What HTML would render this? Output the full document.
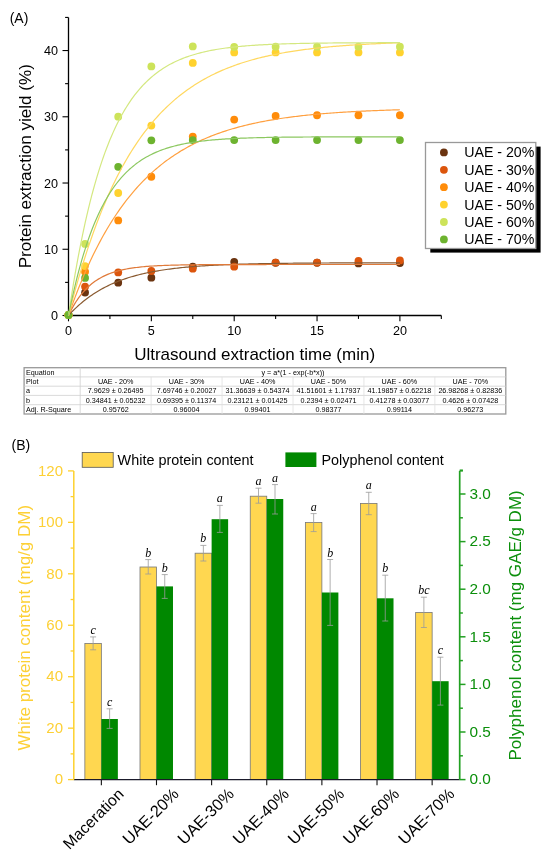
<!DOCTYPE html>
<html><head><meta charset="utf-8"><style>
html,body{margin:0;padding:0;background:#fff;}
svg{display:block;}
</style></head><body>
<svg width="550" height="854" viewBox="0 0 550 854">
<rect width="550" height="854" fill="#fff"/>
<text x="9.7" y="22.8" font-size="14" font-family="Liberation Sans, Arial, sans-serif">(A)</text>
<line x1="68.5" y1="17.42" x2="68.5" y2="316.1" stroke="#000" stroke-width="1.3"/>
<line x1="67.9" y1="315.5" x2="441.32" y2="315.5" stroke="#000" stroke-width="1.3"/>
<line x1="62.50" y1="315.50" x2="68.5" y2="315.50" stroke="#000" stroke-width="1.1"/>
<text x="58.00" y="320.10" font-size="12.6" text-anchor="end" font-family="Liberation Sans, Arial, sans-serif">0</text>
<line x1="65.10" y1="282.38" x2="68.5" y2="282.38" stroke="#000" stroke-width="1.1"/>
<line x1="62.50" y1="249.26" x2="68.5" y2="249.26" stroke="#000" stroke-width="1.1"/>
<text x="58.00" y="253.86" font-size="12.6" text-anchor="end" font-family="Liberation Sans, Arial, sans-serif">10</text>
<line x1="65.10" y1="216.14" x2="68.5" y2="216.14" stroke="#000" stroke-width="1.1"/>
<line x1="62.50" y1="183.02" x2="68.5" y2="183.02" stroke="#000" stroke-width="1.1"/>
<text x="58.00" y="187.62" font-size="12.6" text-anchor="end" font-family="Liberation Sans, Arial, sans-serif">20</text>
<line x1="65.10" y1="149.90" x2="68.5" y2="149.90" stroke="#000" stroke-width="1.1"/>
<line x1="62.50" y1="116.78" x2="68.5" y2="116.78" stroke="#000" stroke-width="1.1"/>
<text x="58.00" y="121.38" font-size="12.6" text-anchor="end" font-family="Liberation Sans, Arial, sans-serif">30</text>
<line x1="65.10" y1="83.66" x2="68.5" y2="83.66" stroke="#000" stroke-width="1.1"/>
<line x1="62.50" y1="50.54" x2="68.5" y2="50.54" stroke="#000" stroke-width="1.1"/>
<text x="58.00" y="55.14" font-size="12.6" text-anchor="end" font-family="Liberation Sans, Arial, sans-serif">40</text>
<line x1="65.10" y1="17.42" x2="68.5" y2="17.42" stroke="#000" stroke-width="1.1"/>
<line x1="68.50" y1="315.5" x2="68.50" y2="321.30" stroke="#000" stroke-width="1.1"/>
<text x="68.50" y="334.90" font-size="12.6" text-anchor="middle" font-family="Liberation Sans, Arial, sans-serif">0</text>
<line x1="109.92" y1="315.5" x2="109.92" y2="318.90" stroke="#000" stroke-width="1.1"/>
<line x1="151.35" y1="315.5" x2="151.35" y2="321.30" stroke="#000" stroke-width="1.1"/>
<text x="151.35" y="334.90" font-size="12.6" text-anchor="middle" font-family="Liberation Sans, Arial, sans-serif">5</text>
<line x1="192.78" y1="315.5" x2="192.78" y2="318.90" stroke="#000" stroke-width="1.1"/>
<line x1="234.20" y1="315.5" x2="234.20" y2="321.30" stroke="#000" stroke-width="1.1"/>
<text x="234.20" y="334.90" font-size="12.6" text-anchor="middle" font-family="Liberation Sans, Arial, sans-serif">10</text>
<line x1="275.62" y1="315.5" x2="275.62" y2="318.90" stroke="#000" stroke-width="1.1"/>
<line x1="317.05" y1="315.5" x2="317.05" y2="321.30" stroke="#000" stroke-width="1.1"/>
<text x="317.05" y="334.90" font-size="12.6" text-anchor="middle" font-family="Liberation Sans, Arial, sans-serif">15</text>
<line x1="358.48" y1="315.5" x2="358.48" y2="318.90" stroke="#000" stroke-width="1.1"/>
<line x1="399.90" y1="315.5" x2="399.90" y2="321.30" stroke="#000" stroke-width="1.1"/>
<text x="399.90" y="334.90" font-size="12.6" text-anchor="middle" font-family="Liberation Sans, Arial, sans-serif">20</text>
<line x1="441.32" y1="315.5" x2="441.32" y2="318.90" stroke="#000" stroke-width="1.1"/>
<text x="254.6" y="359.7" font-size="17" text-anchor="middle" font-family="Liberation Sans, Arial, sans-serif">Ultrasound extraction time (min)</text>
<text transform="translate(31,166.2) rotate(-90)" font-size="17.1" text-anchor="middle" font-family="Liberation Sans, Arial, sans-serif">Protein extraction yield (%)</text>
<circle cx="68.50" cy="315.00" r="3.9" fill="#6b3410"/>
<circle cx="85.07" cy="292.51" r="3.9" fill="#6b3410"/>
<circle cx="118.21" cy="282.72" r="3.9" fill="#6b3410"/>
<circle cx="151.35" cy="277.69" r="3.9" fill="#6b3410"/>
<circle cx="192.78" cy="266.71" r="3.9" fill="#6b3410"/>
<circle cx="234.20" cy="261.82" r="3.9" fill="#6b3410"/>
<circle cx="275.62" cy="262.74" r="3.9" fill="#6b3410"/>
<circle cx="317.05" cy="262.74" r="3.9" fill="#6b3410"/>
<circle cx="358.48" cy="263.40" r="3.9" fill="#6b3410"/>
<circle cx="399.90" cy="263.07" r="3.9" fill="#6b3410"/>
<circle cx="68.50" cy="315.00" r="3.9" fill="#dc550c"/>
<circle cx="85.07" cy="286.56" r="3.9" fill="#dc550c"/>
<circle cx="118.21" cy="272.40" r="3.9" fill="#dc550c"/>
<circle cx="151.35" cy="271.01" r="3.9" fill="#dc550c"/>
<circle cx="192.78" cy="268.69" r="3.9" fill="#dc550c"/>
<circle cx="234.20" cy="266.71" r="3.9" fill="#dc550c"/>
<circle cx="275.62" cy="262.61" r="3.9" fill="#dc550c"/>
<circle cx="317.05" cy="262.61" r="3.9" fill="#dc550c"/>
<circle cx="358.48" cy="261.02" r="3.9" fill="#dc550c"/>
<circle cx="399.90" cy="260.43" r="3.9" fill="#dc550c"/>
<circle cx="68.50" cy="315.00" r="3.9" fill="#ff8c0a"/>
<circle cx="85.07" cy="271.67" r="3.9" fill="#ff8c0a"/>
<circle cx="118.21" cy="220.41" r="3.9" fill="#ff8c0a"/>
<circle cx="151.35" cy="176.75" r="3.9" fill="#ff8c0a"/>
<circle cx="192.78" cy="136.59" r="3.9" fill="#ff8c0a"/>
<circle cx="234.20" cy="119.53" r="3.9" fill="#ff8c0a"/>
<circle cx="275.62" cy="115.89" r="3.9" fill="#ff8c0a"/>
<circle cx="317.05" cy="115.23" r="3.9" fill="#ff8c0a"/>
<circle cx="358.48" cy="115.23" r="3.9" fill="#ff8c0a"/>
<circle cx="399.90" cy="115.23" r="3.9" fill="#ff8c0a"/>
<circle cx="68.50" cy="315.00" r="3.9" fill="#ffd22e"/>
<circle cx="85.07" cy="266.05" r="3.9" fill="#ffd22e"/>
<circle cx="118.21" cy="193.02" r="3.9" fill="#ffd22e"/>
<circle cx="151.35" cy="125.61" r="3.9" fill="#ffd22e"/>
<circle cx="192.78" cy="62.97" r="3.9" fill="#ffd22e"/>
<circle cx="234.20" cy="52.38" r="3.9" fill="#ffd22e"/>
<circle cx="275.62" cy="52.38" r="3.9" fill="#ffd22e"/>
<circle cx="317.05" cy="52.38" r="3.9" fill="#ffd22e"/>
<circle cx="358.48" cy="52.38" r="3.9" fill="#ffd22e"/>
<circle cx="399.90" cy="52.38" r="3.9" fill="#ffd22e"/>
<circle cx="68.50" cy="315.00" r="3.9" fill="#cde35a"/>
<circle cx="85.07" cy="243.89" r="3.9" fill="#cde35a"/>
<circle cx="118.21" cy="116.68" r="3.9" fill="#cde35a"/>
<circle cx="151.35" cy="66.47" r="3.9" fill="#cde35a"/>
<circle cx="192.78" cy="46.43" r="3.9" fill="#cde35a"/>
<circle cx="234.20" cy="46.89" r="3.9" fill="#cde35a"/>
<circle cx="275.62" cy="46.70" r="3.9" fill="#cde35a"/>
<circle cx="317.05" cy="46.70" r="3.9" fill="#cde35a"/>
<circle cx="358.48" cy="46.70" r="3.9" fill="#cde35a"/>
<circle cx="399.90" cy="46.70" r="3.9" fill="#cde35a"/>
<circle cx="68.50" cy="315.00" r="3.9" fill="#6db32f"/>
<circle cx="85.07" cy="277.96" r="3.9" fill="#6db32f"/>
<circle cx="118.21" cy="166.82" r="3.9" fill="#6db32f"/>
<circle cx="151.35" cy="140.36" r="3.9" fill="#6db32f"/>
<circle cx="192.78" cy="140.03" r="3.9" fill="#6db32f"/>
<circle cx="234.20" cy="140.03" r="3.9" fill="#6db32f"/>
<circle cx="275.62" cy="140.03" r="3.9" fill="#6db32f"/>
<circle cx="317.05" cy="140.03" r="3.9" fill="#6db32f"/>
<circle cx="358.48" cy="140.03" r="3.9" fill="#6db32f"/>
<circle cx="399.90" cy="140.03" r="3.9" fill="#6db32f"/>
<polyline points="68.50,315.50 70.16,313.69 71.81,311.95 73.47,310.27 75.13,308.64 76.78,307.07 78.44,305.55 80.10,304.08 81.76,302.67 83.41,301.30 85.07,299.98 86.73,298.71 88.38,297.48 90.04,296.29 91.70,295.14 93.36,294.03 95.01,292.96 96.67,291.93 98.33,290.93 99.98,289.96 101.64,289.03 103.30,288.13 104.95,287.26 106.61,286.42 108.27,285.61 109.92,284.83 111.58,284.07 113.24,283.34 114.90,282.64 116.55,281.96 118.21,281.30 119.87,280.66 121.52,280.05 123.18,279.46 124.84,278.89 126.50,278.33 128.15,277.80 129.81,277.29 131.47,276.79 133.12,276.31 134.78,275.84 136.44,275.40 138.09,274.96 139.75,274.54 141.41,274.14 143.06,273.75 144.72,273.37 146.38,273.01 148.04,272.66 149.69,272.32 151.35,271.99 153.01,271.68 154.66,271.37 156.32,271.08 157.98,270.79 159.63,270.52 161.29,270.25 162.95,269.99 164.61,269.75 166.26,269.51 167.92,269.27 169.58,269.05 171.23,268.84 172.89,268.63 174.55,268.43 176.20,268.23 177.86,268.04 179.52,267.86 181.18,267.69 182.83,267.52 184.49,267.36 186.15,267.20 187.80,267.05 189.46,266.90 191.12,266.76 192.78,266.62 194.43,266.49 196.09,266.36 197.75,266.24 199.40,266.12 201.06,266.00 202.72,265.89 204.37,265.78 206.03,265.68 207.69,265.58 209.34,265.48 211.00,265.39 212.66,265.30 214.32,265.21 215.97,265.13 217.63,265.05 219.29,264.97 220.94,264.89 222.60,264.82 224.26,264.75 225.91,264.68 227.57,264.61 229.23,264.55 230.89,264.49 232.54,264.43 234.20,264.37 235.86,264.32 237.51,264.26 239.17,264.21 240.83,264.16 242.49,264.11 244.14,264.07 245.80,264.02 247.46,263.98 249.11,263.94 250.77,263.90 252.43,263.86 254.08,263.82 255.74,263.78 257.40,263.75 259.06,263.71 260.71,263.68 262.37,263.65 264.03,263.62 265.68,263.59 267.34,263.56 269.00,263.53 270.65,263.51 272.31,263.48 273.97,263.46 275.62,263.43 277.28,263.41 278.94,263.39 280.60,263.36 282.25,263.34 283.91,263.32 285.57,263.30 287.22,263.28 288.88,263.27 290.54,263.25 292.19,263.23 293.85,263.22 295.51,263.20 297.17,263.18 298.82,263.17 300.48,263.16 302.14,263.14 303.79,263.13 305.45,263.12 307.11,263.10 308.76,263.09 310.42,263.08 312.08,263.07 313.74,263.06 315.39,263.05 317.05,263.04 318.71,263.03 320.36,263.02 322.02,263.01 323.68,263.00 325.33,262.99 326.99,262.98 328.65,262.98 330.31,262.97 331.96,262.96 333.62,262.95 335.28,262.95 336.93,262.94 338.59,262.93 340.25,262.93 341.91,262.92 343.56,262.92 345.22,262.91 346.88,262.91 348.53,262.90 350.19,262.89 351.85,262.89 353.50,262.89 355.16,262.88 356.82,262.88 358.48,262.87 360.13,262.87 361.79,262.86 363.45,262.86 365.10,262.86 366.76,262.85 368.42,262.85 370.07,262.85 371.73,262.84 373.39,262.84 375.05,262.84 376.70,262.83 378.36,262.83 380.02,262.83 381.67,262.83 383.33,262.82 384.99,262.82 386.64,262.82 388.30,262.82 389.96,262.81 391.62,262.81 393.27,262.81 394.93,262.81 396.59,262.81 398.24,262.81 399.90,262.80" fill="none" stroke="#8a5a30" stroke-width="1.2"/>
<polyline points="68.50,315.50 70.16,312.08 71.81,308.89 73.47,305.92 75.13,303.14 76.78,300.55 78.44,298.14 80.10,295.88 81.76,293.78 83.41,291.82 85.07,289.99 86.73,288.28 88.38,286.68 90.04,285.20 91.70,283.81 93.36,282.52 95.01,281.31 96.67,280.18 98.33,279.13 99.98,278.15 101.64,277.24 103.30,276.39 104.95,275.59 106.61,274.85 108.27,274.15 109.92,273.51 111.58,272.90 113.24,272.34 114.90,271.82 116.55,271.33 118.21,270.87 119.87,270.44 121.52,270.05 123.18,269.68 124.84,269.33 126.50,269.01 128.15,268.70 129.81,268.42 131.47,268.16 133.12,267.92 134.78,267.69 136.44,267.48 138.09,267.28 139.75,267.09 141.41,266.92 143.06,266.76 144.72,266.61 146.38,266.47 148.04,266.34 149.69,266.21 151.35,266.10 153.01,265.99 154.66,265.89 156.32,265.80 157.98,265.71 159.63,265.63 161.29,265.56 162.95,265.49 164.61,265.42 166.26,265.36 167.92,265.30 169.58,265.25 171.23,265.20 172.89,265.16 174.55,265.11 176.20,265.07 177.86,265.03 179.52,265.00 181.18,264.97 182.83,264.94 184.49,264.91 186.15,264.88 187.80,264.86 189.46,264.83 191.12,264.81 192.78,264.79 194.43,264.77 196.09,264.76 197.75,264.74 199.40,264.72 201.06,264.71 202.72,264.70 204.37,264.68 206.03,264.67 207.69,264.66 209.34,264.65 211.00,264.64 212.66,264.63 214.32,264.63 215.97,264.62 217.63,264.61 219.29,264.60 220.94,264.60 222.60,264.59 224.26,264.59 225.91,264.58 227.57,264.58 229.23,264.57 230.89,264.57 232.54,264.56 234.20,264.56 235.86,264.56 237.51,264.56 239.17,264.55 240.83,264.55 242.49,264.55 244.14,264.54 245.80,264.54 247.46,264.54 249.11,264.54 250.77,264.54 252.43,264.54 254.08,264.53 255.74,264.53 257.40,264.53 259.06,264.53 260.71,264.53 262.37,264.53 264.03,264.53 265.68,264.53 267.34,264.52 269.00,264.52 270.65,264.52 272.31,264.52 273.97,264.52 275.62,264.52 277.28,264.52 278.94,264.52 280.60,264.52 282.25,264.52 283.91,264.52 285.57,264.52 287.22,264.52 288.88,264.52 290.54,264.52 292.19,264.52 293.85,264.52 295.51,264.52 297.17,264.52 298.82,264.52 300.48,264.52 302.14,264.51 303.79,264.51 305.45,264.51 307.11,264.51 308.76,264.51 310.42,264.51 312.08,264.51 313.74,264.51 315.39,264.51 317.05,264.51 318.71,264.51 320.36,264.51 322.02,264.51 323.68,264.51 325.33,264.51 326.99,264.51 328.65,264.51 330.31,264.51 331.96,264.51 333.62,264.51 335.28,264.51 336.93,264.51 338.59,264.51 340.25,264.51 341.91,264.51 343.56,264.51 345.22,264.51 346.88,264.51 348.53,264.51 350.19,264.51 351.85,264.51 353.50,264.51 355.16,264.51 356.82,264.51 358.48,264.51 360.13,264.51 361.79,264.51 363.45,264.51 365.10,264.51 366.76,264.51 368.42,264.51 370.07,264.51 371.73,264.51 373.39,264.51 375.05,264.51 376.70,264.51 378.36,264.51 380.02,264.51 381.67,264.51 383.33,264.51 384.99,264.51 386.64,264.51 388.30,264.51 389.96,264.51 391.62,264.51 393.27,264.51 394.93,264.51 396.59,264.51 398.24,264.51 399.90,264.51" fill="none" stroke="#e07a3a" stroke-width="1.2"/>
<polyline points="68.50,315.50 70.16,310.75 71.81,306.11 73.47,301.58 75.13,297.15 76.78,292.82 78.44,288.59 80.10,284.45 81.76,280.41 83.41,276.47 85.07,272.61 86.73,268.84 88.38,265.16 90.04,261.56 91.70,258.05 93.36,254.61 95.01,251.25 96.67,247.97 98.33,244.77 99.98,241.63 101.64,238.57 103.30,235.58 104.95,232.66 106.61,229.81 108.27,227.02 109.92,224.29 111.58,221.63 113.24,219.02 114.90,216.48 116.55,213.99 118.21,211.56 119.87,209.19 121.52,206.87 123.18,204.61 124.84,202.39 126.50,200.23 128.15,198.11 129.81,196.05 131.47,194.03 133.12,192.06 134.78,190.13 136.44,188.25 138.09,186.41 139.75,184.61 141.41,182.85 143.06,181.13 144.72,179.46 146.38,177.82 148.04,176.21 149.69,174.65 151.35,173.12 153.01,171.63 154.66,170.17 156.32,168.74 157.98,167.34 159.63,165.98 161.29,164.65 162.95,163.35 164.61,162.08 166.26,160.84 167.92,159.62 169.58,158.44 171.23,157.28 172.89,156.14 174.55,155.04 176.20,153.96 177.86,152.90 179.52,151.87 181.18,150.86 182.83,149.87 184.49,148.91 186.15,147.97 187.80,147.05 189.46,146.15 191.12,145.27 192.78,144.41 194.43,143.58 196.09,142.76 197.75,141.96 199.40,141.17 201.06,140.41 202.72,139.66 204.37,138.93 206.03,138.22 207.69,137.52 209.34,136.84 211.00,136.18 212.66,135.53 214.32,134.89 215.97,134.27 217.63,133.66 219.29,133.07 220.94,132.49 222.60,131.92 224.26,131.37 225.91,130.83 227.57,130.30 229.23,129.79 230.89,129.28 232.54,128.79 234.20,128.31 235.86,127.84 237.51,127.38 239.17,126.93 240.83,126.49 242.49,126.06 244.14,125.64 245.80,125.23 247.46,124.83 249.11,124.44 250.77,124.06 252.43,123.69 254.08,123.32 255.74,122.97 257.40,122.62 259.06,122.28 260.71,121.95 262.37,121.62 264.03,121.30 265.68,120.99 267.34,120.69 269.00,120.39 270.65,120.10 272.31,119.82 273.97,119.54 275.62,119.27 277.28,119.01 278.94,118.75 280.60,118.50 282.25,118.25 283.91,118.01 285.57,117.78 287.22,117.55 288.88,117.33 290.54,117.11 292.19,116.89 293.85,116.68 295.51,116.48 297.17,116.28 298.82,116.08 300.48,115.89 302.14,115.70 303.79,115.52 305.45,115.34 307.11,115.17 308.76,115.00 310.42,114.83 312.08,114.67 313.74,114.51 315.39,114.36 317.05,114.21 318.71,114.06 320.36,113.91 322.02,113.77 323.68,113.63 325.33,113.50 326.99,113.37 328.65,113.24 330.31,113.11 331.96,112.99 333.62,112.87 335.28,112.75 336.93,112.64 338.59,112.52 340.25,112.42 341.91,112.31 343.56,112.20 345.22,112.10 346.88,112.00 348.53,111.90 350.19,111.81 351.85,111.71 353.50,111.62 355.16,111.53 356.82,111.45 358.48,111.36 360.13,111.28 361.79,111.20 363.45,111.12 365.10,111.04 366.76,110.97 368.42,110.89 370.07,110.82 371.73,110.75 373.39,110.68 375.05,110.61 376.70,110.55 378.36,110.48 380.02,110.42 381.67,110.36 383.33,110.30 384.99,110.24 386.64,110.18 388.30,110.13 389.96,110.07 391.62,110.02 393.27,109.97 394.93,109.91 396.59,109.86 398.24,109.82 399.90,109.77" fill="none" stroke="#ffa040" stroke-width="1.2"/>
<polyline points="68.50,315.50 70.16,308.99 71.81,302.64 73.47,296.44 75.13,290.39 76.78,284.48 78.44,278.70 80.10,273.07 81.76,267.57 83.41,262.20 85.07,256.95 86.73,251.83 88.38,246.83 90.04,241.95 91.70,237.19 93.36,232.53 95.01,227.99 96.67,223.56 98.33,219.22 99.98,215.00 101.64,210.87 103.30,206.84 104.95,202.90 106.61,199.06 108.27,195.31 109.92,191.65 111.58,188.07 113.24,184.58 114.90,181.17 116.55,177.85 118.21,174.60 119.87,171.42 121.52,168.33 123.18,165.30 124.84,162.35 126.50,159.47 128.15,156.65 129.81,153.91 131.47,151.22 133.12,148.60 134.78,146.05 136.44,143.55 138.09,141.11 139.75,138.73 141.41,136.41 143.06,134.14 144.72,131.92 146.38,129.76 148.04,127.65 149.69,125.59 151.35,123.58 153.01,121.61 154.66,119.69 156.32,117.82 157.98,115.99 159.63,114.20 161.29,112.46 162.95,110.76 164.61,109.10 166.26,107.47 167.92,105.89 169.58,104.34 171.23,102.83 172.89,101.36 174.55,99.92 176.20,98.51 177.86,97.14 179.52,95.80 181.18,94.49 182.83,93.21 184.49,91.97 186.15,90.75 187.80,89.56 189.46,88.40 191.12,87.27 192.78,86.16 194.43,85.08 196.09,84.03 197.75,83.00 199.40,81.99 201.06,81.01 202.72,80.05 204.37,79.12 206.03,78.20 207.69,77.31 209.34,76.44 211.00,75.59 212.66,74.76 214.32,73.95 215.97,73.16 217.63,72.38 219.29,71.63 220.94,70.89 222.60,70.17 224.26,69.47 225.91,68.79 227.57,68.12 229.23,67.46 230.89,66.83 232.54,66.20 234.20,65.60 235.86,65.00 237.51,64.42 239.17,63.86 240.83,63.30 242.49,62.76 244.14,62.24 245.80,61.72 247.46,61.22 249.11,60.73 250.77,60.25 252.43,59.79 254.08,59.33 255.74,58.88 257.40,58.45 259.06,58.02 260.71,57.61 262.37,57.20 264.03,56.81 265.68,56.42 267.34,56.05 269.00,55.68 270.65,55.32 272.31,54.97 273.97,54.63 275.62,54.29 277.28,53.97 278.94,53.65 280.60,53.34 282.25,53.03 283.91,52.74 285.57,52.45 287.22,52.16 288.88,51.89 290.54,51.62 292.19,51.36 293.85,51.10 295.51,50.85 297.17,50.60 298.82,50.36 300.48,50.13 302.14,49.90 303.79,49.68 305.45,49.46 307.11,49.25 308.76,49.04 310.42,48.84 312.08,48.64 313.74,48.45 315.39,48.26 317.05,48.08 318.71,47.90 320.36,47.73 322.02,47.55 323.68,47.39 325.33,47.22 326.99,47.07 328.65,46.91 330.31,46.76 331.96,46.61 333.62,46.47 335.28,46.32 336.93,46.19 338.59,46.05 340.25,45.92 341.91,45.79 343.56,45.67 345.22,45.54 346.88,45.43 348.53,45.31 350.19,45.20 351.85,45.08 353.50,44.98 355.16,44.87 356.82,44.77 358.48,44.67 360.13,44.57 361.79,44.47 363.45,44.38 365.10,44.28 366.76,44.20 368.42,44.11 370.07,44.02 371.73,43.94 373.39,43.86 375.05,43.78 376.70,43.70 378.36,43.62 380.02,43.55 381.67,43.48 383.33,43.41 384.99,43.34 386.64,43.27 388.30,43.21 389.96,43.14 391.62,43.08 393.27,43.02 394.93,42.96 396.59,42.90 398.24,42.84 399.90,42.79" fill="none" stroke="#ffd860" stroke-width="1.2"/>
<polyline points="68.50,315.50 70.16,304.46 71.81,293.88 73.47,283.71 75.13,273.96 76.78,264.61 78.44,255.63 80.10,247.02 81.76,238.75 83.41,230.82 85.07,223.21 86.73,215.90 88.38,208.90 90.04,202.17 91.70,195.72 93.36,189.53 95.01,183.59 96.67,177.88 98.33,172.41 99.98,167.16 101.64,162.13 103.30,157.29 104.95,152.66 106.61,148.21 108.27,143.94 109.92,139.84 111.58,135.91 113.24,132.13 114.90,128.51 116.55,125.04 118.21,121.70 119.87,118.51 121.52,115.44 123.18,112.49 124.84,109.66 126.50,106.95 128.15,104.35 129.81,101.85 131.47,99.46 133.12,97.16 134.78,94.95 136.44,92.84 138.09,90.80 139.75,88.85 141.41,86.98 143.06,85.19 144.72,83.47 146.38,81.81 148.04,80.23 149.69,78.71 151.35,77.25 153.01,75.85 154.66,74.50 156.32,73.21 157.98,71.97 159.63,70.79 161.29,69.65 162.95,68.55 164.61,67.50 166.26,66.50 167.92,65.53 169.58,64.60 171.23,63.71 172.89,62.86 174.55,62.04 176.20,61.25 177.86,60.50 179.52,59.78 181.18,59.08 182.83,58.42 184.49,57.78 186.15,57.16 187.80,56.57 189.46,56.01 191.12,55.47 192.78,54.95 194.43,54.45 196.09,53.97 197.75,53.51 199.40,53.07 201.06,52.64 202.72,52.24 204.37,51.85 206.03,51.47 207.69,51.12 209.34,50.77 211.00,50.44 212.66,50.12 214.32,49.82 215.97,49.53 217.63,49.25 219.29,48.98 220.94,48.72 222.60,48.47 224.26,48.24 225.91,48.01 227.57,47.79 229.23,47.58 230.89,47.38 232.54,47.18 234.20,47.00 235.86,46.82 237.51,46.65 239.17,46.49 240.83,46.33 242.49,46.18 244.14,46.03 245.80,45.90 247.46,45.76 249.11,45.63 250.77,45.51 252.43,45.39 254.08,45.28 255.74,45.17 257.40,45.07 259.06,44.97 260.71,44.87 262.37,44.78 264.03,44.69 265.68,44.61 267.34,44.53 269.00,44.45 270.65,44.37 272.31,44.30 273.97,44.23 275.62,44.17 277.28,44.10 278.94,44.04 280.60,43.99 282.25,43.93 283.91,43.88 285.57,43.82 287.22,43.77 288.88,43.73 290.54,43.68 292.19,43.64 293.85,43.60 295.51,43.56 297.17,43.52 298.82,43.48 300.48,43.44 302.14,43.41 303.79,43.38 305.45,43.35 307.11,43.32 308.76,43.29 310.42,43.26 312.08,43.23 313.74,43.21 315.39,43.18 317.05,43.16 318.71,43.14 320.36,43.11 322.02,43.09 323.68,43.07 325.33,43.05 326.99,43.04 328.65,43.02 330.31,43.00 331.96,42.99 333.62,42.97 335.28,42.96 336.93,42.94 338.59,42.93 340.25,42.91 341.91,42.90 343.56,42.89 345.22,42.88 346.88,42.87 348.53,42.86 350.19,42.85 351.85,42.84 353.50,42.83 355.16,42.82 356.82,42.81 358.48,42.80 360.13,42.79 361.79,42.78 363.45,42.78 365.10,42.77 366.76,42.76 368.42,42.76 370.07,42.75 371.73,42.74 373.39,42.74 375.05,42.73 376.70,42.73 378.36,42.72 380.02,42.72 381.67,42.71 383.33,42.71 384.99,42.70 386.64,42.70 388.30,42.70 389.96,42.69 391.62,42.69 393.27,42.68 394.93,42.68 396.59,42.68 398.24,42.67 399.90,42.67" fill="none" stroke="#d4e880" stroke-width="1.2"/>
<polyline points="68.50,315.50 70.16,307.42 71.81,299.71 73.47,292.34 75.13,285.31 76.78,278.59 78.44,272.18 80.10,266.06 81.76,260.21 83.41,254.63 85.07,249.31 86.73,244.22 88.38,239.36 90.04,234.72 91.70,230.29 93.36,226.07 95.01,222.03 96.67,218.17 98.33,214.49 99.98,210.98 101.64,207.63 103.30,204.42 104.95,201.36 106.61,198.44 108.27,195.66 109.92,192.99 111.58,190.45 113.24,188.02 114.90,185.71 116.55,183.50 118.21,181.38 119.87,179.37 121.52,177.44 123.18,175.60 124.84,173.85 126.50,172.17 128.15,170.57 129.81,169.04 131.47,167.58 133.12,166.19 134.78,164.86 136.44,163.59 138.09,162.38 139.75,161.22 141.41,160.11 143.06,159.06 144.72,158.05 146.38,157.09 148.04,156.17 149.69,155.29 151.35,154.45 153.01,153.66 154.66,152.89 156.32,152.16 157.98,151.47 159.63,150.80 161.29,150.17 162.95,149.56 164.61,148.98 166.26,148.43 167.92,147.90 169.58,147.40 171.23,146.92 172.89,146.46 174.55,146.02 176.20,145.60 177.86,145.20 179.52,144.82 181.18,144.46 182.83,144.11 184.49,143.78 186.15,143.46 187.80,143.16 189.46,142.87 191.12,142.59 192.78,142.33 194.43,142.08 196.09,141.84 197.75,141.61 199.40,141.39 201.06,141.18 202.72,140.98 204.37,140.79 206.03,140.61 207.69,140.44 209.34,140.27 211.00,140.11 212.66,139.96 214.32,139.82 215.97,139.68 217.63,139.55 219.29,139.42 220.94,139.30 222.60,139.19 224.26,139.08 225.91,138.97 227.57,138.87 229.23,138.78 230.89,138.69 232.54,138.60 234.20,138.52 235.86,138.44 237.51,138.36 239.17,138.29 240.83,138.22 242.49,138.16 244.14,138.09 245.80,138.03 247.46,137.98 249.11,137.92 250.77,137.87 252.43,137.82 254.08,137.77 255.74,137.73 257.40,137.68 259.06,137.64 260.71,137.60 262.37,137.56 264.03,137.53 265.68,137.49 267.34,137.46 269.00,137.43 270.65,137.40 272.31,137.37 273.97,137.34 275.62,137.32 277.28,137.29 278.94,137.27 280.60,137.25 282.25,137.22 283.91,137.20 285.57,137.18 287.22,137.17 288.88,137.15 290.54,137.13 292.19,137.11 293.85,137.10 295.51,137.08 297.17,137.07 298.82,137.05 300.48,137.04 302.14,137.03 303.79,137.02 305.45,137.01 307.11,137.00 308.76,136.99 310.42,136.98 312.08,136.97 313.74,136.96 315.39,136.95 317.05,136.94 318.71,136.93 320.36,136.92 322.02,136.92 323.68,136.91 325.33,136.90 326.99,136.90 328.65,136.89 330.31,136.89 331.96,136.88 333.62,136.88 335.28,136.87 336.93,136.87 338.59,136.86 340.25,136.86 341.91,136.85 343.56,136.85 345.22,136.85 346.88,136.84 348.53,136.84 350.19,136.84 351.85,136.83 353.50,136.83 355.16,136.83 356.82,136.82 358.48,136.82 360.13,136.82 361.79,136.82 363.45,136.81 365.10,136.81 366.76,136.81 368.42,136.81 370.07,136.81 371.73,136.80 373.39,136.80 375.05,136.80 376.70,136.80 378.36,136.80 380.02,136.80 381.67,136.80 383.33,136.79 384.99,136.79 386.64,136.79 388.30,136.79 389.96,136.79 391.62,136.79 393.27,136.79 394.93,136.79 396.59,136.79 398.24,136.78 399.90,136.78" fill="none" stroke="#8cc860" stroke-width="1.2"/>
<rect x="430.3" y="146.6" width="110.3" height="106" fill="#000"/>
<rect x="425.5" y="142.5" width="110.3" height="106" fill="#fff" stroke="#999" stroke-width="1.3"/>
<circle cx="443.9" cy="152.40" r="3.9" fill="#6b3410"/>
<text x="464.2" y="157.30" font-size="14.2" font-family="Liberation Sans, Arial, sans-serif">UAE - 20%</text>
<circle cx="443.9" cy="169.80" r="3.9" fill="#dc550c"/>
<text x="464.2" y="174.70" font-size="14.2" font-family="Liberation Sans, Arial, sans-serif">UAE - 30%</text>
<circle cx="443.9" cy="187.20" r="3.9" fill="#ff8c0a"/>
<text x="464.2" y="192.10" font-size="14.2" font-family="Liberation Sans, Arial, sans-serif">UAE - 40%</text>
<circle cx="443.9" cy="204.60" r="3.9" fill="#ffd22e"/>
<text x="464.2" y="209.50" font-size="14.2" font-family="Liberation Sans, Arial, sans-serif">UAE - 50%</text>
<circle cx="443.9" cy="222.00" r="3.9" fill="#cde35a"/>
<text x="464.2" y="226.90" font-size="14.2" font-family="Liberation Sans, Arial, sans-serif">UAE - 60%</text>
<circle cx="443.9" cy="239.40" r="3.9" fill="#6db32f"/>
<text x="464.2" y="244.30" font-size="14.2" font-family="Liberation Sans, Arial, sans-serif">UAE - 70%</text>
<rect x="24.1" y="367.7" width="481.70" height="46.30" fill="#fff" stroke="#999" stroke-width="1.3"/>
<line x1="24.1" y1="376.9" x2="505.8" y2="376.9" stroke="#d0d0d0" stroke-width="0.8"/>
<line x1="24.1" y1="386.2" x2="505.8" y2="386.2" stroke="#d0d0d0" stroke-width="0.8"/>
<line x1="24.1" y1="395.4" x2="505.8" y2="395.4" stroke="#d0d0d0" stroke-width="0.8"/>
<line x1="24.1" y1="404.7" x2="505.8" y2="404.7" stroke="#d0d0d0" stroke-width="0.8"/>
<line x1="80.2" y1="367.7" x2="80.2" y2="414.0" stroke="#d0d0d0" stroke-width="0.8"/>
<line x1="151.13" y1="376.9" x2="151.13" y2="414.0" stroke="#e0e0e0" stroke-width="0.8"/>
<line x1="222.07" y1="376.9" x2="222.07" y2="414.0" stroke="#e0e0e0" stroke-width="0.8"/>
<line x1="293.00" y1="376.9" x2="293.00" y2="414.0" stroke="#e0e0e0" stroke-width="0.8"/>
<line x1="363.93" y1="376.9" x2="363.93" y2="414.0" stroke="#e0e0e0" stroke-width="0.8"/>
<line x1="434.87" y1="376.9" x2="434.87" y2="414.0" stroke="#e0e0e0" stroke-width="0.8"/>
<text x="26.0" y="374.90" font-size="7.2" font-family="Liberation Sans, Arial, sans-serif">Equation</text>
<text x="26.0" y="384.10" font-size="7.2" font-family="Liberation Sans, Arial, sans-serif">Plot</text>
<text x="26.0" y="393.40" font-size="7.2" font-family="Liberation Sans, Arial, sans-serif">a</text>
<text x="26.0" y="402.60" font-size="7.2" font-family="Liberation Sans, Arial, sans-serif">b</text>
<text x="26.0" y="411.90" font-size="7.2" font-family="Liberation Sans, Arial, sans-serif">Adj. R-Square</text>
<text x="293.00" y="374.90" text-anchor="middle" font-size="7.2" font-family="Liberation Sans, Arial, sans-serif">y = a*(1 - exp(-b*x))</text>
<text x="115.67" y="384.10" text-anchor="middle" font-size="7.2" font-family="Liberation Sans, Arial, sans-serif">UAE - 20%</text>
<text x="186.60" y="384.10" text-anchor="middle" font-size="7.2" font-family="Liberation Sans, Arial, sans-serif">UAE - 30%</text>
<text x="257.53" y="384.10" text-anchor="middle" font-size="7.2" font-family="Liberation Sans, Arial, sans-serif">UAE - 40%</text>
<text x="328.47" y="384.10" text-anchor="middle" font-size="7.2" font-family="Liberation Sans, Arial, sans-serif">UAE - 50%</text>
<text x="399.40" y="384.10" text-anchor="middle" font-size="7.2" font-family="Liberation Sans, Arial, sans-serif">UAE - 60%</text>
<text x="470.33" y="384.10" text-anchor="middle" font-size="7.2" font-family="Liberation Sans, Arial, sans-serif">UAE - 70%</text>
<text x="115.67" y="393.40" text-anchor="middle" font-size="7.2" font-family="Liberation Sans, Arial, sans-serif">7.9629 ± 0.26495</text>
<text x="186.60" y="393.40" text-anchor="middle" font-size="7.2" font-family="Liberation Sans, Arial, sans-serif">7.69746 ± 0.20027</text>
<text x="257.53" y="393.40" text-anchor="middle" font-size="7.2" font-family="Liberation Sans, Arial, sans-serif">31.36639 ± 0.54374</text>
<text x="328.47" y="393.40" text-anchor="middle" font-size="7.2" font-family="Liberation Sans, Arial, sans-serif">41.51601 ± 1.17937</text>
<text x="399.40" y="393.40" text-anchor="middle" font-size="7.2" font-family="Liberation Sans, Arial, sans-serif">41.19857 ± 0.62218</text>
<text x="470.33" y="393.40" text-anchor="middle" font-size="7.2" font-family="Liberation Sans, Arial, sans-serif">26.98268 ± 0.82836</text>
<text x="115.67" y="402.60" text-anchor="middle" font-size="7.2" font-family="Liberation Sans, Arial, sans-serif">0.34841 ± 0.05232</text>
<text x="186.60" y="402.60" text-anchor="middle" font-size="7.2" font-family="Liberation Sans, Arial, sans-serif">0.69395 ± 0.11374</text>
<text x="257.53" y="402.60" text-anchor="middle" font-size="7.2" font-family="Liberation Sans, Arial, sans-serif">0.23121 ± 0.01425</text>
<text x="328.47" y="402.60" text-anchor="middle" font-size="7.2" font-family="Liberation Sans, Arial, sans-serif">0.2394 ± 0.02471</text>
<text x="399.40" y="402.60" text-anchor="middle" font-size="7.2" font-family="Liberation Sans, Arial, sans-serif">0.41278 ± 0.03077</text>
<text x="470.33" y="402.60" text-anchor="middle" font-size="7.2" font-family="Liberation Sans, Arial, sans-serif">0.4626 ± 0.07428</text>
<text x="115.67" y="411.90" text-anchor="middle" font-size="7.2" font-family="Liberation Sans, Arial, sans-serif">0.95762</text>
<text x="186.60" y="411.90" text-anchor="middle" font-size="7.2" font-family="Liberation Sans, Arial, sans-serif">0.96004</text>
<text x="257.53" y="411.90" text-anchor="middle" font-size="7.2" font-family="Liberation Sans, Arial, sans-serif">0.99401</text>
<text x="328.47" y="411.90" text-anchor="middle" font-size="7.2" font-family="Liberation Sans, Arial, sans-serif">0.98377</text>
<text x="399.40" y="411.90" text-anchor="middle" font-size="7.2" font-family="Liberation Sans, Arial, sans-serif">0.99114</text>
<text x="470.33" y="411.90" text-anchor="middle" font-size="7.2" font-family="Liberation Sans, Arial, sans-serif">0.96273</text>
<text x="11.5" y="450.3" font-size="14" font-family="Liberation Sans, Arial, sans-serif">(B)</text>
<rect x="82.2" y="452.5" width="31" height="14.8" fill="#ffd750" stroke="#555" stroke-width="0.8"/>
<text x="117.6" y="464.6" font-size="14.4" font-family="Liberation Sans, Arial, sans-serif">White protein content</text>
<rect x="285.4" y="452.4" width="31" height="14.6" fill="#008800"/>
<text x="321.4" y="464.6" font-size="14.4" font-family="Liberation Sans, Arial, sans-serif">Polyphenol content</text>
<rect x="84.86" y="643.50" width="16.5" height="136.10" fill="#ffd750" stroke="#777" stroke-width="0.8"/>
<rect x="101.36" y="719.00" width="16.5" height="60.60" fill="#008800"/>
<line x1="93.11" y1="636.9" x2="93.11" y2="649.8" stroke="#9a9a9a" stroke-width="0.8"/>
<line x1="90.11" y1="636.9" x2="96.11" y2="636.9" stroke="#9a9a9a" stroke-width="0.8"/>
<line x1="90.11" y1="649.8" x2="96.11" y2="649.8" stroke="#9a9a9a" stroke-width="0.8"/>
<text x="93.11" y="633.90" text-anchor="middle" font-size="12" font-style="italic" font-family="Liberation Serif, Times New Roman, serif">c</text>
<line x1="109.61" y1="708.8" x2="109.61" y2="728.4" stroke="#9a9a9a" stroke-width="0.8"/>
<line x1="106.61" y1="708.8" x2="112.61" y2="708.8" stroke="#9a9a9a" stroke-width="0.8"/>
<line x1="106.61" y1="728.4" x2="112.61" y2="728.4" stroke="#9a9a9a" stroke-width="0.8"/>
<text x="109.61" y="705.80" text-anchor="middle" font-size="12" font-style="italic" font-family="Liberation Serif, Times New Roman, serif">c</text>
<line x1="101.36" y1="779.6" x2="101.36" y2="785.20" stroke="#111" stroke-width="1.1"/>
<text transform="translate(124.66,795.00) rotate(-45)" text-anchor="end" font-size="15.8" font-family="Liberation Sans, Arial, sans-serif">Maceration</text>
<rect x="139.99" y="567.00" width="16.5" height="212.60" fill="#ffd750" stroke="#777" stroke-width="0.8"/>
<rect x="156.49" y="586.40" width="16.5" height="193.20" fill="#008800"/>
<line x1="148.24" y1="559.6" x2="148.24" y2="574.0" stroke="#9a9a9a" stroke-width="0.8"/>
<line x1="145.24" y1="559.6" x2="151.24" y2="559.6" stroke="#9a9a9a" stroke-width="0.8"/>
<line x1="145.24" y1="574.0" x2="151.24" y2="574.0" stroke="#9a9a9a" stroke-width="0.8"/>
<text x="148.24" y="556.60" text-anchor="middle" font-size="12" font-style="italic" font-family="Liberation Serif, Times New Roman, serif">b</text>
<line x1="164.74" y1="574.6" x2="164.74" y2="598.4" stroke="#9a9a9a" stroke-width="0.8"/>
<line x1="161.74" y1="574.6" x2="167.74" y2="574.6" stroke="#9a9a9a" stroke-width="0.8"/>
<line x1="161.74" y1="598.4" x2="167.74" y2="598.4" stroke="#9a9a9a" stroke-width="0.8"/>
<text x="164.74" y="571.60" text-anchor="middle" font-size="12" font-style="italic" font-family="Liberation Serif, Times New Roman, serif">b</text>
<line x1="156.49" y1="779.6" x2="156.49" y2="785.20" stroke="#111" stroke-width="1.1"/>
<text transform="translate(179.79,795.00) rotate(-45)" text-anchor="end" font-size="16.3" font-family="Liberation Sans, Arial, sans-serif">UAE-20%</text>
<rect x="195.12" y="553.20" width="16.5" height="226.40" fill="#ffd750" stroke="#777" stroke-width="0.8"/>
<rect x="211.62" y="519.20" width="16.5" height="260.40" fill="#008800"/>
<line x1="203.37" y1="545.4" x2="203.37" y2="561.0" stroke="#9a9a9a" stroke-width="0.8"/>
<line x1="200.37" y1="545.4" x2="206.37" y2="545.4" stroke="#9a9a9a" stroke-width="0.8"/>
<line x1="200.37" y1="561.0" x2="206.37" y2="561.0" stroke="#9a9a9a" stroke-width="0.8"/>
<text x="203.37" y="542.40" text-anchor="middle" font-size="12" font-style="italic" font-family="Liberation Serif, Times New Roman, serif">b</text>
<line x1="219.87" y1="505.4" x2="219.87" y2="532.4" stroke="#9a9a9a" stroke-width="0.8"/>
<line x1="216.87" y1="505.4" x2="222.87" y2="505.4" stroke="#9a9a9a" stroke-width="0.8"/>
<line x1="216.87" y1="532.4" x2="222.87" y2="532.4" stroke="#9a9a9a" stroke-width="0.8"/>
<text x="219.87" y="502.40" text-anchor="middle" font-size="12" font-style="italic" font-family="Liberation Serif, Times New Roman, serif">a</text>
<line x1="211.62" y1="779.6" x2="211.62" y2="785.20" stroke="#111" stroke-width="1.1"/>
<text transform="translate(234.92,795.00) rotate(-45)" text-anchor="end" font-size="16.3" font-family="Liberation Sans, Arial, sans-serif">UAE-30%</text>
<rect x="250.25" y="496.20" width="16.5" height="283.40" fill="#ffd750" stroke="#777" stroke-width="0.8"/>
<rect x="266.75" y="499.00" width="16.5" height="280.60" fill="#008800"/>
<line x1="258.50" y1="488.2" x2="258.50" y2="503.2" stroke="#9a9a9a" stroke-width="0.8"/>
<line x1="255.50" y1="488.2" x2="261.50" y2="488.2" stroke="#9a9a9a" stroke-width="0.8"/>
<line x1="255.50" y1="503.2" x2="261.50" y2="503.2" stroke="#9a9a9a" stroke-width="0.8"/>
<text x="258.50" y="485.20" text-anchor="middle" font-size="12" font-style="italic" font-family="Liberation Serif, Times New Roman, serif">a</text>
<line x1="275.00" y1="484.6" x2="275.00" y2="514.0" stroke="#9a9a9a" stroke-width="0.8"/>
<line x1="272.00" y1="484.6" x2="278.00" y2="484.6" stroke="#9a9a9a" stroke-width="0.8"/>
<line x1="272.00" y1="514.0" x2="278.00" y2="514.0" stroke="#9a9a9a" stroke-width="0.8"/>
<text x="275.00" y="481.60" text-anchor="middle" font-size="12" font-style="italic" font-family="Liberation Serif, Times New Roman, serif">a</text>
<line x1="266.75" y1="779.6" x2="266.75" y2="785.20" stroke="#111" stroke-width="1.1"/>
<text transform="translate(290.05,795.00) rotate(-45)" text-anchor="end" font-size="16.3" font-family="Liberation Sans, Arial, sans-serif">UAE-40%</text>
<rect x="305.38" y="522.60" width="16.5" height="257.00" fill="#ffd750" stroke="#777" stroke-width="0.8"/>
<rect x="321.88" y="592.50" width="16.5" height="187.10" fill="#008800"/>
<line x1="313.63" y1="513.6" x2="313.63" y2="531.6" stroke="#9a9a9a" stroke-width="0.8"/>
<line x1="310.63" y1="513.6" x2="316.63" y2="513.6" stroke="#9a9a9a" stroke-width="0.8"/>
<line x1="310.63" y1="531.6" x2="316.63" y2="531.6" stroke="#9a9a9a" stroke-width="0.8"/>
<text x="313.63" y="510.60" text-anchor="middle" font-size="12" font-style="italic" font-family="Liberation Serif, Times New Roman, serif">a</text>
<line x1="330.13" y1="559.5" x2="330.13" y2="625.4" stroke="#9a9a9a" stroke-width="0.8"/>
<line x1="327.13" y1="559.5" x2="333.13" y2="559.5" stroke="#9a9a9a" stroke-width="0.8"/>
<line x1="327.13" y1="625.4" x2="333.13" y2="625.4" stroke="#9a9a9a" stroke-width="0.8"/>
<text x="330.13" y="556.50" text-anchor="middle" font-size="12" font-style="italic" font-family="Liberation Serif, Times New Roman, serif">b</text>
<line x1="321.88" y1="779.6" x2="321.88" y2="785.20" stroke="#111" stroke-width="1.1"/>
<text transform="translate(345.18,795.00) rotate(-45)" text-anchor="end" font-size="16.3" font-family="Liberation Sans, Arial, sans-serif">UAE-50%</text>
<rect x="360.51" y="503.40" width="16.5" height="276.20" fill="#ffd750" stroke="#777" stroke-width="0.8"/>
<rect x="377.01" y="598.30" width="16.5" height="181.30" fill="#008800"/>
<line x1="368.76" y1="492.3" x2="368.76" y2="514.7" stroke="#9a9a9a" stroke-width="0.8"/>
<line x1="365.76" y1="492.3" x2="371.76" y2="492.3" stroke="#9a9a9a" stroke-width="0.8"/>
<line x1="365.76" y1="514.7" x2="371.76" y2="514.7" stroke="#9a9a9a" stroke-width="0.8"/>
<text x="368.76" y="489.30" text-anchor="middle" font-size="12" font-style="italic" font-family="Liberation Serif, Times New Roman, serif">a</text>
<line x1="385.26" y1="575.2" x2="385.26" y2="621.0" stroke="#9a9a9a" stroke-width="0.8"/>
<line x1="382.26" y1="575.2" x2="388.26" y2="575.2" stroke="#9a9a9a" stroke-width="0.8"/>
<line x1="382.26" y1="621.0" x2="388.26" y2="621.0" stroke="#9a9a9a" stroke-width="0.8"/>
<text x="385.26" y="572.20" text-anchor="middle" font-size="12" font-style="italic" font-family="Liberation Serif, Times New Roman, serif">b</text>
<line x1="377.01" y1="779.6" x2="377.01" y2="785.20" stroke="#111" stroke-width="1.1"/>
<text transform="translate(400.31,795.00) rotate(-45)" text-anchor="end" font-size="16.3" font-family="Liberation Sans, Arial, sans-serif">UAE-60%</text>
<rect x="415.64" y="612.50" width="16.5" height="167.10" fill="#ffd750" stroke="#777" stroke-width="0.8"/>
<rect x="432.14" y="681.20" width="16.5" height="98.40" fill="#008800"/>
<line x1="423.89" y1="597.2" x2="423.89" y2="627.5" stroke="#9a9a9a" stroke-width="0.8"/>
<line x1="420.89" y1="597.2" x2="426.89" y2="597.2" stroke="#9a9a9a" stroke-width="0.8"/>
<line x1="420.89" y1="627.5" x2="426.89" y2="627.5" stroke="#9a9a9a" stroke-width="0.8"/>
<text x="423.89" y="594.20" text-anchor="middle" font-size="12" font-style="italic" font-family="Liberation Serif, Times New Roman, serif">bc</text>
<line x1="440.39" y1="657.2" x2="440.39" y2="705.1" stroke="#9a9a9a" stroke-width="0.8"/>
<line x1="437.39" y1="657.2" x2="443.39" y2="657.2" stroke="#9a9a9a" stroke-width="0.8"/>
<line x1="437.39" y1="705.1" x2="443.39" y2="705.1" stroke="#9a9a9a" stroke-width="0.8"/>
<text x="440.39" y="654.20" text-anchor="middle" font-size="12" font-style="italic" font-family="Liberation Serif, Times New Roman, serif">c</text>
<line x1="432.14" y1="779.6" x2="432.14" y2="785.20" stroke="#111" stroke-width="1.1"/>
<text transform="translate(455.44,795.00) rotate(-45)" text-anchor="end" font-size="16.3" font-family="Liberation Sans, Arial, sans-serif">UAE-70%</text>
<line x1="73.8" y1="779.6" x2="459.7" y2="779.6" stroke="#1a1a2a" stroke-width="1.05"/>
<line x1="73.8" y1="470.9" x2="73.8" y2="779.6" stroke="#fdd12e" stroke-width="1.5"/>
<line x1="68.00" y1="779.60" x2="73.8" y2="779.60" stroke="#fdd12e" stroke-width="1.3"/>
<text x="63.00" y="784.30" font-size="15" text-anchor="end" fill="#fdd035" font-family="Liberation Sans, Arial, sans-serif">0</text>
<line x1="70.60" y1="753.88" x2="73.8" y2="753.88" stroke="#fdd12e" stroke-width="1.3"/>
<line x1="68.00" y1="728.15" x2="73.8" y2="728.15" stroke="#fdd12e" stroke-width="1.3"/>
<text x="63.00" y="732.85" font-size="15" text-anchor="end" fill="#fdd035" font-family="Liberation Sans, Arial, sans-serif">20</text>
<line x1="70.60" y1="702.42" x2="73.8" y2="702.42" stroke="#fdd12e" stroke-width="1.3"/>
<line x1="68.00" y1="676.70" x2="73.8" y2="676.70" stroke="#fdd12e" stroke-width="1.3"/>
<text x="63.00" y="681.40" font-size="15" text-anchor="end" fill="#fdd035" font-family="Liberation Sans, Arial, sans-serif">40</text>
<line x1="70.60" y1="650.98" x2="73.8" y2="650.98" stroke="#fdd12e" stroke-width="1.3"/>
<line x1="68.00" y1="625.25" x2="73.8" y2="625.25" stroke="#fdd12e" stroke-width="1.3"/>
<text x="63.00" y="629.95" font-size="15" text-anchor="end" fill="#fdd035" font-family="Liberation Sans, Arial, sans-serif">60</text>
<line x1="70.60" y1="599.52" x2="73.8" y2="599.52" stroke="#fdd12e" stroke-width="1.3"/>
<line x1="68.00" y1="573.80" x2="73.8" y2="573.80" stroke="#fdd12e" stroke-width="1.3"/>
<text x="63.00" y="578.50" font-size="15" text-anchor="end" fill="#fdd035" font-family="Liberation Sans, Arial, sans-serif">80</text>
<line x1="70.60" y1="548.08" x2="73.8" y2="548.08" stroke="#fdd12e" stroke-width="1.3"/>
<line x1="68.00" y1="522.35" x2="73.8" y2="522.35" stroke="#fdd12e" stroke-width="1.3"/>
<text x="63.00" y="527.05" font-size="15" text-anchor="end" fill="#fdd035" font-family="Liberation Sans, Arial, sans-serif">100</text>
<line x1="70.60" y1="496.62" x2="73.8" y2="496.62" stroke="#fdd12e" stroke-width="1.3"/>
<line x1="68.00" y1="470.90" x2="73.8" y2="470.90" stroke="#fdd12e" stroke-width="1.3"/>
<text x="63.00" y="475.60" font-size="15" text-anchor="end" fill="#fdd035" font-family="Liberation Sans, Arial, sans-serif">120</text>
<text transform="translate(30.3,627.7) rotate(-90)" font-size="17" text-anchor="middle" fill="#fdd035" font-family="Liberation Sans, Arial, sans-serif">White protein content (mg/g DM)</text>
<line x1="459.7" y1="470.9" x2="459.7" y2="779.6" stroke="#22a022" stroke-width="1.7"/>
<line x1="459.7" y1="779.60" x2="465.50" y2="779.60" stroke="#22a022" stroke-width="1.5"/>
<text x="469.50" y="784.40" font-size="15.4" fill="#0b8f0b" font-family="Liberation Sans, Arial, sans-serif">0.0</text>
<line x1="459.7" y1="755.80" x2="462.90" y2="755.80" stroke="#22a022" stroke-width="1.5"/>
<line x1="459.7" y1="732.00" x2="465.50" y2="732.00" stroke="#22a022" stroke-width="1.5"/>
<text x="469.50" y="736.80" font-size="15.4" fill="#0b8f0b" font-family="Liberation Sans, Arial, sans-serif">0.5</text>
<line x1="459.7" y1="708.20" x2="462.90" y2="708.20" stroke="#22a022" stroke-width="1.5"/>
<line x1="459.7" y1="684.40" x2="465.50" y2="684.40" stroke="#22a022" stroke-width="1.5"/>
<text x="469.50" y="689.20" font-size="15.4" fill="#0b8f0b" font-family="Liberation Sans, Arial, sans-serif">1.0</text>
<line x1="459.7" y1="660.60" x2="462.90" y2="660.60" stroke="#22a022" stroke-width="1.5"/>
<line x1="459.7" y1="636.80" x2="465.50" y2="636.80" stroke="#22a022" stroke-width="1.5"/>
<text x="469.50" y="641.60" font-size="15.4" fill="#0b8f0b" font-family="Liberation Sans, Arial, sans-serif">1.5</text>
<line x1="459.7" y1="613.00" x2="462.90" y2="613.00" stroke="#22a022" stroke-width="1.5"/>
<line x1="459.7" y1="589.20" x2="465.50" y2="589.20" stroke="#22a022" stroke-width="1.5"/>
<text x="469.50" y="594.00" font-size="15.4" fill="#0b8f0b" font-family="Liberation Sans, Arial, sans-serif">2.0</text>
<line x1="459.7" y1="565.40" x2="462.90" y2="565.40" stroke="#22a022" stroke-width="1.5"/>
<line x1="459.7" y1="541.60" x2="465.50" y2="541.60" stroke="#22a022" stroke-width="1.5"/>
<text x="469.50" y="546.40" font-size="15.4" fill="#0b8f0b" font-family="Liberation Sans, Arial, sans-serif">2.5</text>
<line x1="459.7" y1="517.80" x2="462.90" y2="517.80" stroke="#22a022" stroke-width="1.5"/>
<line x1="459.7" y1="494.00" x2="465.50" y2="494.00" stroke="#22a022" stroke-width="1.5"/>
<text x="469.50" y="498.80" font-size="15.4" fill="#0b8f0b" font-family="Liberation Sans, Arial, sans-serif">3.0</text>
<line x1="459.7" y1="470.20" x2="462.90" y2="470.20" stroke="#22a022" stroke-width="1.5"/>
<line x1="459.7" y1="470.9" x2="462.9" y2="470.9" stroke="#22a022" stroke-width="1.5"/>
<text transform="translate(521.1,625.4) rotate(-90)" font-size="17" text-anchor="middle" fill="#0b8f0b" font-family="Liberation Sans, Arial, sans-serif">Polyphenol content (mg GAE/g DM)</text>
</svg>
</body></html>
